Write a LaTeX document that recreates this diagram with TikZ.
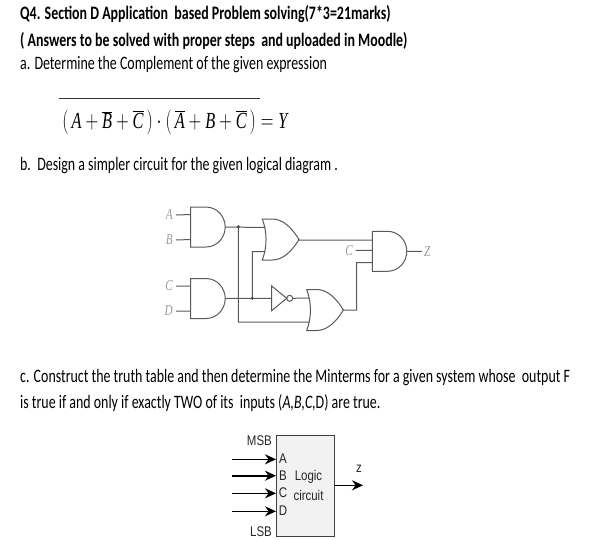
\documentclass[tikz,border=0pt]{standalone}
\usepackage{fontspec}
\setmainfont{Carlito}
\newfontfamily\labelfont{Liberation Sans}
\newfontfamily\pinfont{Liberation Serif}
\usetikzlibrary{arrows.meta}
\newcommand{\var}[1]{\hbox{\pinfont\itshape #1}}
\tikzset{
	line/.style={anchor=west,font=\fontsize{19}{19}\selectfont,inner sep=0pt,xscale=.733},
	wire/.style={draw=black!65,line width=1pt},
	pin/.style={text=black!40,font=\fontsize{15}{15}\selectfont\itshape\pinfont,inner sep=0pt,xscale=.75},
	bus/.style={line width=1.6pt,-{Stealth[length=11pt,width=10pt]}},
	tag/.style={font=\fontsize{14}{14}\selectfont\labelfont,inner sep=0pt,text=black!85,xscale=.82},
	andgate/.pic={
		\draw[wire] (0,-20) -- (15,-20) .. controls (27,-20) and (34.5,-10) .. (34.5,0)
			.. controls (34.5,10) and (27,20) .. (15,20) -- (0,20) -- cycle;
		\path (0,-12.5) coordinate (-in1) (0,12.5) coordinate (-in2) (34.5,0) coordinate (-out);
	},
	orgate/.pic={
		\draw[wire] (0,-20.5) -- (10,-20.5) .. controls (21,-20.5) and (30,-11) .. (36.7,0)
			.. controls (30,11) and (21,20.5) .. (10,20.5) -- (0,20.5)
			.. controls (5,7) and (5,-7) .. (0,-20.5) -- cycle;
		\path (3,-12) coordinate (-in1) (3,12) coordinate (-in2) (36.7,0) coordinate (-out);
	},
	notgate/.pic={
		\draw[wire] (0,-12.3) -- (15,0) -- (0,12.3) -- cycle;
		\draw[wire] (18,0) circle (3);
		\path (0,0) coordinate (-in) (21,0) coordinate (-out);
	}
}
\begin{document}
\begin{tikzpicture}[x=1pt,y=-1pt]
	\useasboundingbox (0,0) rectangle (600,539);

	\node[line] (title) at (20,14) {\textbf{Q4. Section D Application\ \ based Problem solving(7*3=21marks)}};
	\node[line] (note) at (20,41) {\textbf{( Answers to be solved with proper steps\ \ and uploaded in Moodle)}};
	\node[line] (parta) at (20,65) {a. Determine the Complement of the given expression};
	\node[line] (partb) at (20,165.5) {b.\ \ Design a simpler circuit for the given logical diagram .};
	\node[line] (partc) at (20,377.5) {c. Construct the truth table and then determine the Minterms for a given system whose\ \ output F};
	\node[line] (partd) at (20,403) {is true if and only if exactly TWO of its\ \ inputs ({\itshape A,B,C,}D) are true.};

	\node[inner sep=0pt,font=\fontsize{23}{23}\selectfont,xscale=.71] (expr) at (175,122)
		{$(\,\var{A}+\overline{\var{B}}+\overline{\var{C}}\,)\cdot(\,\overline{\var{A}}+\var{B}+\overline{\var{C}}\,)=\var{Y}$};
	\path (59,98.3) coordinate (barl) (260,98.3) coordinate (barr);
	\draw[black!80,line width=.8pt] (barl) -- (barr);

	% gates
	\pic (and1) at (190.7,227) {andgate};
	\pic (and2) at (190.7,298.5) {andgate};
	\pic (or1) at (262.3,239.5) {orgate};
	\pic (or2) at (306.7,310) {orgate};
	\pic (and3) at (372.3,251.3) {andgate};
	\pic (inv) at (271.7,298.3) {notgate};

	\path
		(176,215) coordinate (a)
		(176,240) coordinate (b)
		(176,286) coordinate (c)
		(176,311) coordinate (d)
		(355.7,250.3) coordinate (c2)
		(422,251.3) coordinate (z)
		(238.3,226.7) coordinate (j1)
		(252.3,298.3) coordinate (j2)
		(299,240) coordinate (o1)
		(372.3,240) coordinate (i1)
		(372.3,250.3) coordinate (i2)
		(372.3,262.7) coordinate (i3)
		(356.7,262.7) coordinate (k)
	;
	\node[pin,anchor=east] (la) at (173,215) {A};
	\node[pin,anchor=east] (lb) at (173,240) {B};
	\node[pin,anchor=east] (lc) at (173,286) {C};
	\node[pin,anchor=east] (ld) at (173,311) {D};
	\node[pin,anchor=east] (lc2) at (353,250.3) {C};
	\node[pin,anchor=west] (lz) at (424,251.3) {Z};

	\draw[wire]
		(a) -- (and1-in1)
		(b) -- (and1-in2)
		(c) -- (and2-in1)
		(d) -- (and2-in2)
		(and1-out) -- (or1-in1)
		(and2-out) -- (inv-in)
		(j2) |- (or1-in2)
		(inv-out) -- (or2-in1)
		(j1) |- (or2-in2)
		(o1) -- (i1)
		(c2) -- (i2)
		(or2-out) -| (k) -- (i3)
		(and3-out) -- (z)
	;
	\fill[black!70] (j1) circle (1.7) (j2) circle (1.7);

	% logic block
	\node[draw=black!75,fill=black!5,line width=1pt,minimum width=58pt,minimum height=101.5pt,inner sep=0pt] (block) at (305,486) {};
	\node[tag,anchor=east] (msb) at (272,441) {MSB};
	\node[tag,anchor=east] (lsb) at (272,532) {LSB};
	\node[tag] (pa) at (283,459) {A};
	\node[tag] (pb) at (283,476) {B};
	\node[tag] (pc) at (283,493) {C};
	\node[tag] (pd) at (283,511) {D};
	\node[tag] (logic) at (308.5,477) {Logic};
	\node[tag] (circ) at (308.5,495) {circuit};
	\node[tag] (oz) at (359,469) {z};
	\path
		(232,459.3) coordinate (ia) (276,459.3) coordinate (ea)
		(232,475.7) coordinate (ib) (276,475.7) coordinate (eb)
		(232,493.3) coordinate (ic) (276,493.3) coordinate (ec)
		(232,511.3) coordinate (id) (276,511.3) coordinate (ed)
		(363,485.3) coordinate (oe) (334,485.3) coordinate (os)
	;
	\draw[bus] (ia) -- (ea);
	\draw[bus] (ib) -- (eb);
	\draw[bus] (ic) -- (ec);
	\draw[bus] (id) -- (ed);
	\draw[bus] (os) -- (oe);
\end{tikzpicture}
\end{document}
